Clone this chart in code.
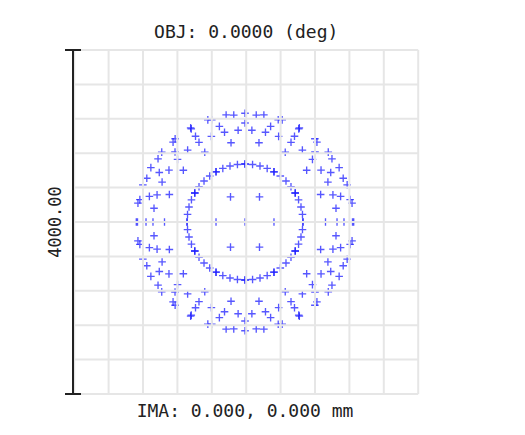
<!DOCTYPE html>
<html>
<head>
<meta charset="utf-8">
<script src="https://cdn.jsdelivr.net/npm/d3@7"></script>
<style>
  body { margin: 0; background: #fff; }
  svg { display: block; }
</style>
</head>
<body>
<div id="chart-spot"></div>
<script>
// spot diagram, on-axis field, hexapolar pupil sampling (8 rings)
const fieldLabel = 'OBJ: 0.0000 (deg)'
const imageLabel = 'IMA: 0.000, 0.000 mm'
const scaleLabel = 4000 // micron, full box height

// pupil ring number and image radius of that ring (micron)
const rings = [1, 2, 3, 4, 5, 6, 7, 8]
const ringRadius = [337, 674, 936, 1151, 1250, 1264, 1070, 674]
const gridTicks = [-2000, -1600, -1200, -800, -400, 0, 400, 800, 1200, 1600, 2000]

const width = 525
const height = 435
const box = { left: 73, top: 50, size: 344 }

const svg = d3
  .select('#chart-spot')
  .append('svg')
  .attr('width', width)
  .attr('height', height)

const xPositionScale = d3
  .scaleLinear()
  .domain([-scaleLabel / 2, scaleLabel / 2])
  .range([box.left, box.left + box.size])
const yPositionScale = d3
  .scaleLinear()
  .domain([-scaleLabel / 2, scaleLabel / 2])
  .range([box.top + box.size, box.top])
// the grid sits about a pixel right of the chief ray in the original
const xGridScale = xPositionScale.copy().range([box.left + 1.2, box.left + box.size + 1.2])

// rays: chief ray + 6k rays on ring k
const rays = [{ x: 0, y: 0 }]
rings.forEach((k, i) => {
  const n = 6 * k
  for (let j = 0; j < n; j++) {
    const a = (2 * Math.PI * j) / n
    rays.push({ x: ringRadius[i] * Math.cos(a), y: ringRadius[i] * Math.sin(a) })
  }
})

const arm = 3.8
svg
  .append('g')
  .attr('class', 'rays')
  .selectAll('path')
  .data(rays)
  .enter()
  .append('path')
  .attr('d', d => {
    const cx = xPositionScale(d.x)
    const cy = yPositionScale(d.y)
    return `M${cx - arm},${cy}H${cx + arm}M${cx},${cy - arm}V${cy + arm}`
  })
  .attr('fill', 'none')
  .attr('stroke', '#0000ff')
  .attr('stroke-opacity', 0.66)
  .attr('stroke-width', 1.35)

// grid goes over the rays
const grid = svg.append('g').attr('class', 'grid')
grid
  .selectAll('.v')
  .data(gridTicks)
  .enter()
  .append('line')
  .attr('x1', d => xGridScale(d))
  .attr('x2', d => xGridScale(d))
  .attr('y1', yPositionScale(-scaleLabel / 2))
  .attr('y2', yPositionScale(scaleLabel / 2))
grid
  .selectAll('.h')
  .data(gridTicks)
  .enter()
  .append('line')
  .attr('y1', d => yPositionScale(d))
  .attr('y2', d => yPositionScale(d))
  .attr('x1', xGridScale(-scaleLabel / 2))
  .attr('x2', xGridScale(scaleLabel / 2))
grid.selectAll('line').attr('stroke', '#e6e6e6').attr('stroke-width', 2)

// scale bar on the left edge
const bar = svg.append('g').attr('stroke', '#222').attr('stroke-width', 2)
const bx = xPositionScale(-scaleLabel / 2)
bar
  .append('line')
  .attr('x1', bx)
  .attr('x2', bx)
  .attr('y1', yPositionScale(scaleLabel / 2))
  .attr('y2', yPositionScale(-scaleLabel / 2))
;[scaleLabel / 2, -scaleLabel / 2].forEach(v => {
  bar
    .append('line')
    .attr('x1', bx - 8)
    .attr('x2', bx + 8)
    .attr('y1', yPositionScale(v))
    .attr('y2', yPositionScale(v))
})

svg
  .append('text')
  .attr('transform', `translate(61,${yPositionScale(0)}) rotate(-90)`)
  .attr('text-anchor', 'middle')
  .attr('font-family', 'DejaVu Sans Mono, monospace')
  .attr('font-size', 17)
  .attr('fill', '#222')
  .text(d3.format('.2f')(scaleLabel))

svg
  .append('text')
  .attr('x', xGridScale(0))
  .attr('y', 38)
  .attr('text-anchor', 'middle')
  .attr('font-family', 'DejaVu Sans Mono, monospace')
  .attr('font-size', 18)
  .attr('fill', '#222')
  .text(fieldLabel)

svg
  .append('text')
  .attr('x', xPositionScale(0))
  .attr('y', 417)
  .attr('text-anchor', 'middle')
  .attr('font-family', 'DejaVu Sans Mono, monospace')
  .attr('font-size', 18)
  .attr('fill', '#222')
  .text(imageLabel)
</script>
</body>
</html>
